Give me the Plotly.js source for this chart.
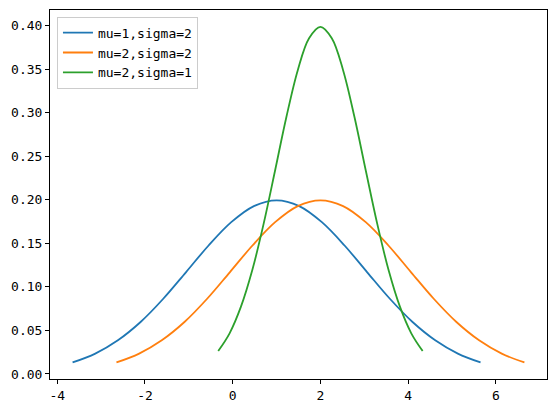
<!DOCTYPE html>
<html>
<head>
<meta charset="utf-8">
<script src="https://cdn.plot.ly/plotly-3.0.1.min.js"></script>
<style>
  html, body { margin: 0; padding: 0; background: #fff; }
  #chart { width: 556px; height: 412px; }
</style>
</head>
<body>
<div id="chart"></div>
<script>
// Values
const blueX = [-3.65, -3.133, -2.617, -2.1, -1.583, -1.067, -0.55, -0.033, 0.483, 1.0, 1.517, 2.033, 2.55, 3.067, 3.583, 4.1, 4.617, 5.133, 5.65];
const blueY = [0.0132, 0.0234, 0.0387, 0.0597, 0.0864, 0.1168, 0.1476, 0.1744, 0.1929, 0.1995, 0.1929, 0.1744, 0.1476, 0.1168, 0.0864, 0.0597, 0.0387, 0.0234, 0.0132];

const orangeX = [-2.65, -2.133, -1.617, -1.1, -0.583, -0.067, 0.45, 0.967, 1.483, 2.0, 2.517, 3.033, 3.55, 4.067, 4.583, 5.1, 5.617, 6.133, 6.65];
const orangeY = [0.0132, 0.0234, 0.0387, 0.0597, 0.0864, 0.1168, 0.1476, 0.1744, 0.1929, 0.1995, 0.1929, 0.1744, 0.1476, 0.1168, 0.0864, 0.0597, 0.0387, 0.0234, 0.0132];

const greenX = [-0.33, -0.071, 0.188, 0.447, 0.706, 0.965, 1.224, 1.482, 1.741, 2.0, 2.259, 2.518, 2.776, 3.035, 3.294, 3.553, 3.812, 4.071, 4.33];
const greenY = [0.0264, 0.0467, 0.0773, 0.1194, 0.1727, 0.2335, 0.2952, 0.3488, 0.3858, 0.3989, 0.3858, 0.3488, 0.2952, 0.2335, 0.1727, 0.1194, 0.0773, 0.0467, 0.0264];

const seriesNames = ['mu=1,sigma=2', 'mu=2,sigma=2', 'mu=2,sigma=1'];
const xTicks = [-4, -2, 0, 2, 4, 6];
const yTicks = [0, 0.05, 0.10, 0.15, 0.20, 0.25, 0.30, 0.35, 0.40];

const colors = ['#1f77b4', '#ff7f0e', '#2ca02c'];
const mono = 'DejaVu Sans Mono, monospace';

function lineTrace(x, y, i) {
    return {
        x: x,
        y: y,
        type: 'scatter',
        mode: 'lines',
        name: seriesNames[i],
        line: { color: colors[i], width: 1.8, shape: 'spline', smoothing: 1 }
    };
}

const axisBase = {
    showgrid: false,
    zeroline: false,
    showline: true,
    mirror: true,
    linecolor: '#000',
    linewidth: 1,
    ticks: 'outside',
    ticklen: 4,
    tickwidth: 1,
    tickcolor: '#000',
    tickfont: { family: mono, size: 13, color: '#000' }
};

const layout = {
    width: 556,
    height: 412,
    margin: { l: 50, r: 9, t: 10, b: 33 },
    paper_bgcolor: '#fff',
    plot_bgcolor: '#fff',
    font: { family: mono, size: 13, color: '#000' },
    showlegend: true,
    legend: {
        x: 0.014, y: 0.982,
        xanchor: 'left', yanchor: 'top',
        bgcolor: 'rgba(255,255,255,0.8)',
        bordercolor: '#cccccc',
        borderwidth: 1,
        font: { family: mono, size: 13, color: '#000' },
        tracegroupgap: 0
    },
    xaxis: {
        ...axisBase,
        range: [-4.165, 7.165],
        tickvals: xTicks,
        ticktext: xTicks.map(String)
    },
    yaxis: {
        ...axisBase,
        range: [-0.0058, 0.4182],
        tickvals: yTicks,
        ticktext: yTicks.map(v => v.toFixed(2))
    }
};

Plotly.newPlot('chart', [
    lineTrace(blueX, blueY, 0),
    lineTrace(orangeX, orangeY, 1),
    lineTrace(greenX, greenY, 2)
], layout, { staticPlot: true, displayModeBar: false });
</script>
</body>
</html>
